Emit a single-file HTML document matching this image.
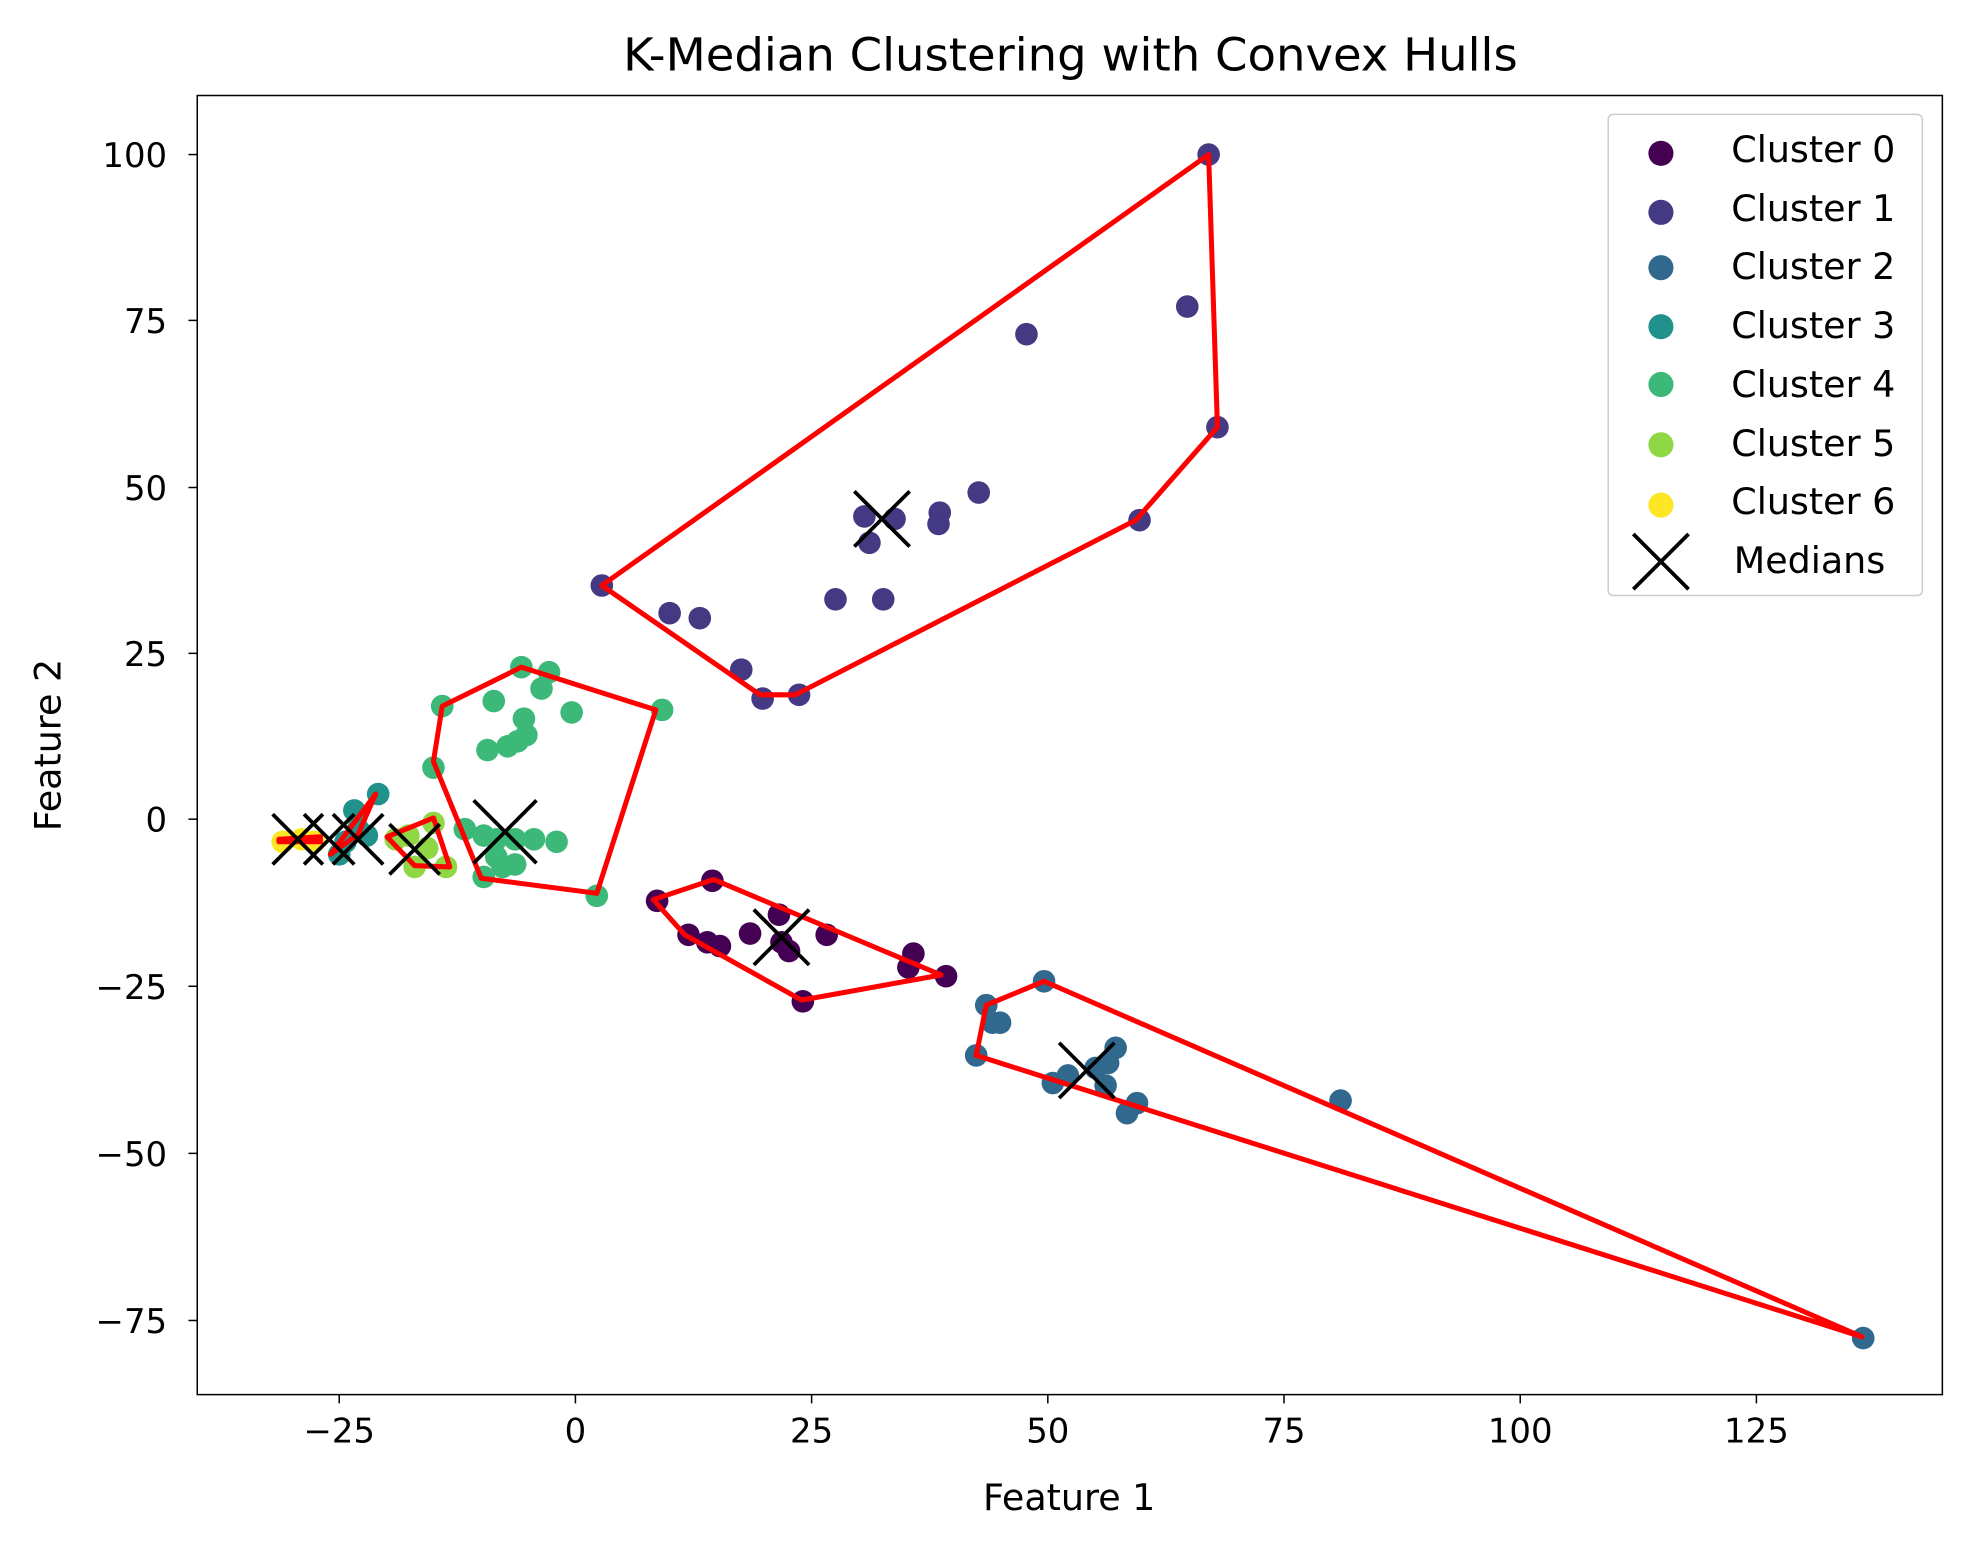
<!DOCTYPE html>
<html><head><meta charset="utf-8"><style>html,body{margin:0;padding:0;background:#fff}svg{display:block}text{font-family:"DejaVu Sans","Liberation Sans",sans-serif;fill:#000}</style></head><body>
<svg width="1970" height="1541" viewBox="0 0 1568 1226.5" xmlns="http://www.w3.org/2000/svg">
<rect width="1568" height="1227" fill="#fff"/>
<text x="852" y="56" font-size="36" text-anchor="middle" textLength="712" lengthAdjust="spacingAndGlyphs">K-Median Clustering with Convex Hulls</text>
<g font-size="27" text-anchor="end">
<text x="133" y="133">100</text><text x="133" y="265">75</text><text x="133" y="398">50</text><text x="133" y="530">25</text><text x="133" y="662">0</text><text x="133" y="795">−25</text><text x="133" y="928">−50</text><text x="133" y="1061">−75</text>
</g>
<g stroke="#000" stroke-width="1.2"><line x1="150" y1="123" x2="157" y2="123"/><line x1="150" y1="255" x2="157" y2="255"/><line x1="150" y1="388" x2="157" y2="388"/><line x1="150" y1="520" x2="157" y2="520"/><line x1="150" y1="652" x2="157" y2="652"/><line x1="150" y1="785" x2="157" y2="785"/><line x1="150" y1="918" x2="157" y2="918"/><line x1="150" y1="1051" x2="157" y2="1051"/>
<line x1="270" y1="1110" x2="270" y2="1117"/><line x1="458" y1="1110" x2="458" y2="1117"/><line x1="646" y1="1110" x2="646" y2="1117"/><line x1="834" y1="1110" x2="834" y2="1117"/><line x1="1022" y1="1110" x2="1022" y2="1117"/><line x1="1210" y1="1110" x2="1210" y2="1117"/><line x1="1398" y1="1110" x2="1398" y2="1117"/></g>
<g font-size="27" text-anchor="middle">
<text x="270" y="1148">−25</text><text x="458" y="1148">0</text><text x="646" y="1148">25</text><text x="834" y="1148">50</text><text x="1022" y="1148">75</text><text x="1210" y="1148">100</text><text x="1398" y="1148">125</text>
</g>
<text x="851" y="1202" font-size="29" text-anchor="middle">Feature 1</text>
<text transform="translate(48,593) rotate(-90)" font-size="29" text-anchor="middle">Feature 2</text>
<g fill="#3cb878">
<circle cx="415" cy="531" r="9"/><circle cx="437" cy="535" r="9"/><circle cx="352" cy="562" r="9"/><circle cx="393" cy="558" r="9"/><circle cx="431" cy="548" r="9"/><circle cx="455" cy="567" r="9"/><circle cx="417" cy="572" r="9"/><circle cx="419" cy="585" r="9"/><circle cx="388" cy="597" r="9"/><circle cx="404" cy="594" r="9"/><circle cx="412" cy="590" r="9"/><circle cx="345" cy="611" r="9"/><circle cx="527" cy="565" r="9"/><circle cx="370" cy="660" r="9"/><circle cx="385" cy="665" r="9"/><circle cx="395" cy="668" r="9"/><circle cx="410" cy="668" r="9"/><circle cx="425" cy="668" r="9"/><circle cx="443" cy="670" r="9"/><circle cx="385" cy="698" r="9"/><circle cx="400" cy="690" r="9"/><circle cx="475" cy="713" r="9"/><circle cx="410" cy="688" r="9"/><circle cx="395" cy="682" r="9"/>
</g>
<g fill="#21918c"><circle cx="301" cy="632" r="9"/><circle cx="282" cy="645" r="9"/><circle cx="285" cy="660" r="9"/><circle cx="275" cy="670" r="9"/><circle cx="270" cy="680" r="9"/><circle cx="292" cy="665" r="9"/></g>
<g fill="#8fd744"><circle cx="315" cy="668" r="9"/><circle cx="330" cy="690" r="9"/><circle cx="345" cy="655" r="9"/><circle cx="355" cy="690" r="9"/><circle cx="340" cy="675" r="9"/><circle cx="325" cy="665" r="9"/></g>
<g fill="#fde725"><circle cx="225" cy="670" r="9"/><circle cx="240" cy="668" r="9"/><circle cx="250" cy="670" r="9"/></g>
<g fill="#443983">
<circle cx="962" cy="123" r="9"/><circle cx="945" cy="244" r="9"/><circle cx="817" cy="266" r="9"/><circle cx="969" cy="340" r="9"/><circle cx="779" cy="392" r="9"/><circle cx="748" cy="408" r="9"/><circle cx="747" cy="417" r="9"/><circle cx="907" cy="414" r="9"/><circle cx="688" cy="411" r="9"/><circle cx="712" cy="413" r="9"/><circle cx="692" cy="432" r="9"/><circle cx="665" cy="477" r="9"/><circle cx="703" cy="477" r="9"/><circle cx="533" cy="488" r="9"/><circle cx="557" cy="492" r="9"/><circle cx="590" cy="533" r="9"/><circle cx="607" cy="556" r="9"/><circle cx="636" cy="553" r="9"/><circle cx="479" cy="466" r="9"/>
</g>
<g fill="#440154">
<circle cx="523" cy="717" r="9"/><circle cx="567" cy="701" r="9"/><circle cx="548" cy="744" r="9"/><circle cx="563" cy="750" r="9"/><circle cx="573" cy="753" r="9"/><circle cx="597" cy="743" r="9"/><circle cx="620" cy="728" r="9"/><circle cx="622" cy="750" r="9"/><circle cx="628" cy="757" r="9"/><circle cx="658" cy="744" r="9"/><circle cx="727" cy="759" r="9"/><circle cx="723" cy="770" r="9"/><circle cx="753" cy="777" r="9"/><circle cx="639" cy="797" r="9"/>
</g>
<g fill="#31688e">
<circle cx="831" cy="781" r="9"/><circle cx="785" cy="800" r="9"/><circle cx="790" cy="814" r="9"/><circle cx="796" cy="814" r="9"/><circle cx="777" cy="840" r="9"/><circle cx="838" cy="862" r="9"/><circle cx="850" cy="856" r="9"/><circle cx="872" cy="850" r="9"/><circle cx="882" cy="846" r="9"/><circle cx="888" cy="834" r="9"/><circle cx="880" cy="864" r="9"/><circle cx="897" cy="886" r="9"/><circle cx="905" cy="878" r="9"/><circle cx="1067" cy="876" r="9"/><circle cx="1483" cy="1065" r="9"/>
</g>
<g fill="none" stroke="#ff0000" stroke-width="4" stroke-linejoin="round">
<polygon points="479,466 962,123 969,340 904,414 633,553 605,553"/>
<polygon points="352,562 415,531 522,565 475,711 383,699 345,606"/>
<polygon points="520,716 568,700 749,776 638,796 545,744"/>
<polygon points="831,781 1482,1064 777,840 785,800"/>
<polygon points="308,666 345,651 358,690 330,689"/>
<polygon points="263,680 299,632 285,664"/>
<polygon points="222,668 255,666 255,670 222,670"/>
</g>
<g stroke="#000" stroke-width="3" fill="none">
<path d="M217,648 L257,688 M257,648 L217,688"/>
<path d="M242,648 L282,688 M282,648 L242,688"/>
<path d="M265,648 L305,688 M305,648 L265,688"/>
<path d="M310,656 L350,696 M350,656 L310,696"/>
<path d="M377,637 L427,687 M427,637 L377,687"/>
<path d="M600,724 L644,768 M644,724 L600,768"/>
<path d="M680,391 L724,435 M724,391 L680,435"/>
<path d="M843,830 L887,874 M887,830 L843,874"/>
</g>
<rect x="1280" y="91" width="250" height="383" rx="4" fill="#fff" fill-opacity="0.8" stroke="#ccc" stroke-width="1.2"/>
<g font-size="29">
<circle cx="1322" cy="122" r="10" fill="#440154"/><text x="1378" y="129">Cluster 0</text>
<circle cx="1322" cy="169" r="10" fill="#443983"/><text x="1378" y="176">Cluster 1</text>
<circle cx="1322" cy="213" r="10" fill="#31688e"/><text x="1378" y="222">Cluster 2</text>
<circle cx="1322" cy="260" r="10" fill="#21918c"/><text x="1378" y="269">Cluster 3</text>
<circle cx="1322" cy="306" r="10" fill="#3cb878"/><text x="1378" y="316">Cluster 4</text>
<circle cx="1322" cy="354" r="10" fill="#8fd744"/><text x="1378" y="363">Cluster 5</text>
<circle cx="1322" cy="402" r="10" fill="#fde725"/><text x="1378" y="409">Cluster 6</text>
<path d="M1300,425 L1344,469 M1344,425 L1300,469" stroke="#000" stroke-width="3"/><text x="1380" y="456">Medians</text>
</g>
<rect x="157" y="76" width="1389" height="1034" fill="none" stroke="#000" stroke-width="1.2"/>
</svg>
</body></html>
